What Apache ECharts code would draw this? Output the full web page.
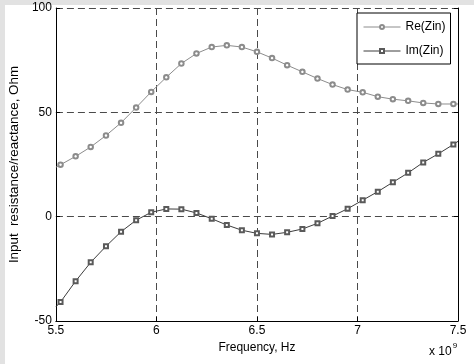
<!DOCTYPE html>
<html>
<head>
<meta charset="utf-8">
<script src="https://cdn.jsdelivr.net/npm/echarts@6/dist/echarts.min.js"></script>
<style>
html,body{margin:0;padding:0;background:#fff;}
#c{width:474px;height:364px;}
</style>
</head>
<body>
<div id="c"></div>
<script>
// Frequency (x 10^9 Hz) at the marked points
var freq = [5.523, 5.598, 5.673, 5.749, 5.824, 5.899, 5.974, 6.049, 6.124, 6.199, 6.275, 6.350, 6.425, 6.500,
            6.575, 6.650, 6.726, 6.801, 6.876, 6.951, 7.026, 7.101, 7.176, 7.252, 7.327, 7.402, 7.477];
var reZin = [24.9, 28.9, 33.4, 38.9, 45.0, 52.3, 59.8, 66.8, 73.4, 78.2, 81.3, 82.1, 81.3, 79.0,
             76.0, 72.6, 69.4, 66.2, 63.3, 60.9, 59.6, 57.5, 56.3, 55.5, 54.5, 54.0, 54.0];
var imZin = [-40.9, -30.9, -21.9, -14.2, -7.2, -1.7, 2.1, 3.7, 3.6, 1.8, -1.0, -4.0, -6.5, -8.0,
             -8.5, -7.5, -5.9, -3.2, 0.3, 3.8, 7.9, 12.0, 16.5, 21.0, 26.0, 30.1, 34.6];
// Line continues to the axis limits (no marker there)
var freqEdge = [5.5, 7.5];
var reEdge = [23.7, 54.0];
var imEdge = [-43.2, 36.1];
var xTicks = [5.5, 6, 6.5, 7, 7.5];
var yTicks = [-50, 0, 50, 100];

function buildData(vals, edges) {
  var d = [{value: [freqEdge[0], edges[0]], symbol: 'none'}];
  for (var i = 0; i < freq.length; i++) d.push([freq[i], vals[i]]);
  d.push({value: [freqEdge[1], edges[1]], symbol: 'none'});
  return d;
}

var font = 'Liberation Sans, Arial, Helvetica, sans-serif';
var chart = echarts.init(document.getElementById('c'), null, {renderer: 'canvas'});
var gridDash = {show: true, lineStyle: {color: '#4a4a4a', width: 1, type: [7, 4]}};

chart.setOption({
  backgroundColor: '#fff',
  animation: false,
  grid: {left: 53, right: 16, top: 8, bottom: 43},
  legend: {
    orient: 'vertical',
    left: 357, top: 13,
    padding: [8, 5, 7, 6],
    itemWidth: 37, itemHeight: 5, itemGap: 12,
    borderColor: '#000', borderWidth: 1,
    backgroundColor: '#fff',
    lineStyle: {width: 1},
    textStyle: {fontFamily: font, fontSize: 12, color: '#000'},
    data: ['Re(Zin)', 'Im(Zin)']
  },
  xAxis: [{
    type: 'value', min: xTicks[0], max: xTicks[xTicks.length - 1], interval: 0.5,
    name: 'Frequency, Hz', nameLocation: 'middle', nameGap: 19,
    nameTextStyle: {fontFamily: font, fontSize: 12, color: '#000'},
    axisLine: {show: true, onZero: false, lineStyle: {color: '#000', width: 1}},
    axisTick: {show: true, inside: true, length: 4, lineStyle: {color: '#000'}},
    axisLabel: {fontFamily: font, fontSize: 12, color: '#000', margin: 4,
      formatter: function (v) { return String(v); }},
    splitLine: gridDash
  }, {
    type: 'value', position: 'top', min: xTicks[0], max: xTicks[xTicks.length - 1], interval: 0.5,
    axisLine: {show: false}, axisTick: {show: false}, axisLabel: {show: false}, splitLine: {show: false}
  }],
  yAxis: [{
    type: 'value', min: yTicks[0], max: yTicks[yTicks.length - 1], interval: 50,
    name: 'Input  resistance/reactance, Ohm', nameLocation: 'middle', nameGap: 30,
    nameTextStyle: {fontFamily: font, fontSize: 13.4, color: '#000'},
    axisLine: {show: true, onZero: false, lineStyle: {color: '#000', width: 1}},
    axisTick: {show: true, inside: true, length: 4, lineStyle: {color: '#000'}},
    axisLabel: {fontFamily: font, fontSize: 12, color: '#000', margin: 4},
    splitLine: gridDash
  }, {
    type: 'value', position: 'right', min: yTicks[0], max: yTicks[yTicks.length - 1], interval: 50,
    axisLine: {show: true, onZero: false, lineStyle: {color: '#000', width: 1}},
    axisTick: {show: true, inside: true, length: 4, lineStyle: {color: '#000'}},
    axisLabel: {show: false}, splitLine: {show: false}
  }],
  series: [{
    name: 'Re(Zin)', type: 'line', smooth: false,
    symbol: 'emptyCircle', symbolSize: 4.5,
    lineStyle: {color: '#8c8c8c', width: 1},
    itemStyle: {color: '#8c8c8c', borderColor: '#8c8c8c', borderWidth: 1},
    data: buildData(reZin, reEdge)
  }, {
    name: 'Im(Zin)', type: 'line', smooth: false,
    symbol: 'emptyRect', symbolSize: 4,
    lineStyle: {color: '#3c3c3c', width: 1},
    itemStyle: {color: '#5a5a5a', borderColor: '#5a5a5a', borderWidth: 1},
    data: buildData(imZin, imEdge)
  }],
  graphic: [{
    type: 'rect', left: 0, top: 0, silent: true,
    shape: {width: 474, height: 364},
    style: {fill: 'none', stroke: '#e2e2e2', lineWidth: 5}
  }, {
    type: 'text', left: 429, top: 342,
    style: {
      text: '{b|x 10}{s|9}',
      rich: {
        b: {fontFamily: font, fontSize: 12, fill: '#000', verticalAlign: 'bottom', lineHeight: 16},
        s: {fontFamily: font, fontSize: 8, fill: '#000', verticalAlign: 'top', lineHeight: 16, padding: [0, 0, 8, 1]}
      }
    }
  }]
});
</script>
</body>
</html>
